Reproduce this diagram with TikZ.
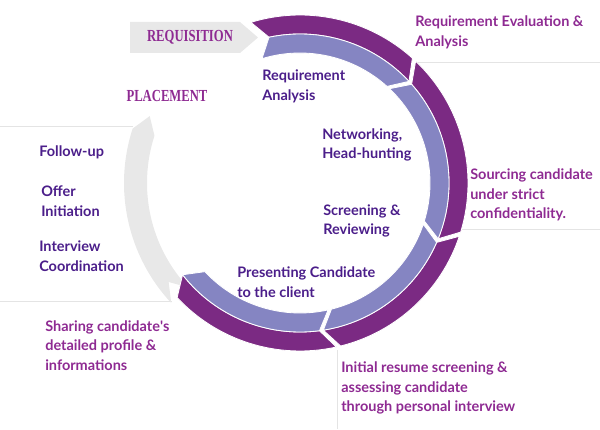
\documentclass[tikz,border=0pt]{standalone}
\usepackage{fontspec}
\setmainfont{Lato}
\newfontfamily\capsfont[FakeStretch=0.75]{Liberation Serif}
\usetikzlibrary{positioning}
\definecolor{ribbonpurple}{HTML}{7B2A83}
\definecolor{ribbonlav}{HTML}{8585C2}
\definecolor{bandgrey}{HTML}{E8E8E8}
\definecolor{ruleline}{HTML}{E4E4E4}
\definecolor{innertext}{HTML}{4B1E8A}
\definecolor{outertext}{HTML}{8E2A92}

\begin{document}
\begin{tikzpicture}[
  x=0.025cm, y=0.025cm,
  inlab/.style={anchor=west, align=left, inner sep=0pt,
    font=\bfseries\fontsize{10.3}{14}\selectfont, text=innertext},
  outlab/.style={inlab, text=outertext},
  caplab/.style={inner sep=0pt, font=\capsfont\bfseries\fontsize{12}{14}\selectfont,
    text=outertext},
  ringpurple/.style={fill=ribbonpurple, draw=white, line width=0.6pt},
  ringlav/.style={fill=ribbonlav, draw=white, line width=0.6pt},
  greyband/.style={fill=bandgrey},
  sepline/.style={draw=ruleline, line width=0.5pt}
]
\useasboundingbox (0,0) rectangle (600,429);

% thin rules round the text blocks
\draw[sepline] (0,303) -- (133,303);
\draw[sepline] (0,128) -- (172,128);
\draw[sepline] (415,367) -- (600,367);
\draw[sepline] (460,200) -- (600,200);
\draw[sepline] (337,79) -- (337,0);

% requisition banner
\fill[greyband] (130,376) -- (240,376) -- (258,391.5) -- (240,407) -- (130,407) -- cycle;

\begin{scope}[shift={(300,246)}]
  % grey return arc
  \fill[greyband] (223:176) arc[start angle=223, end angle=162, radius=176]
    -- (156:164.5) -- (162:153) arc[start angle=162, end angle=223, radius=153]
    -- (217:164.5) -- cycle;
  % ribbon segments
  \foreach \as/\ae in {107/48, 46.5/-17, -18.5/-76, -77.5/-137} {
    \fill[ringpurple] (\as:168) arc[start angle=\as, end angle=\ae, radius=168]
      -- ({\ae-5}:149) arc[start angle={\ae-5}, end angle={\as-5}, radius=149] -- cycle;
    \fill[ringlav] ({\as-5}:149) arc[start angle={\as-5}, end angle={\ae-5}, radius=149]
      -- (\ae:130) arc[start angle=\ae, end angle=\as, radius=130] -- cycle;
  }
\end{scope}

\node[caplab] (requisition) at (190,392) {REQUISITION};
\node[caplab] (placement) at (167,333) {PLACEMENT};

\node[outlab] (evalnote) at (415,396.5) {Requirement Evaluation \&\\Analysis};
\node[inlab] (reqana) at (262,342.5) {Requirement\\Analysis};
\node[inlab] (netw) at (322,284) {Networking,\\Head-hunting};
\node[outlab] (sourcing) at (470,234) {Sourcing candidate\\under strict\\confidentiality.};
\node[inlab] (screen) at (323,208) {Screening \&\\Reviewing};
\node[inlab] (present) at (237,146.5) {Presenting Candidate\\to the client};
\node[outlab] (initial) at (341,41) {Initial resume screening \&\\assessing candidate\\through personal interview};
\node[outlab] (sharing) at (45,83.5) {Sharing candidate\textquotesingle s\\detailed profile \&\\informations};
\node[inlab] (followup) at (39,277) {Follow-up};
\node[inlab] (offer) at (41,227.5) {Offer\\Initiation};
\node[inlab] (interview) at (39,173) {Interview\\Coordination};
\end{tikzpicture}
\end{document}
